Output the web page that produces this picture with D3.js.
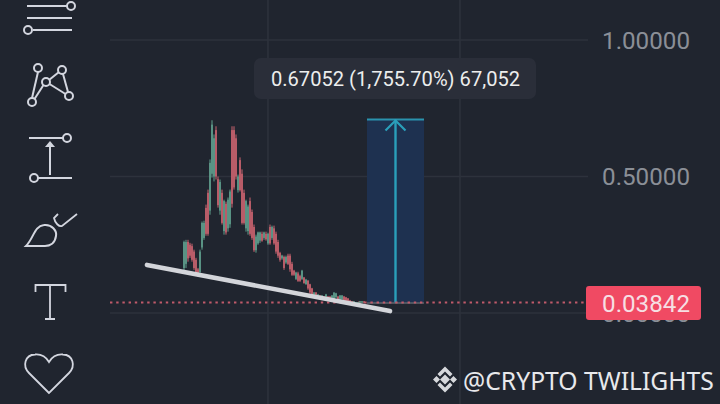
<!DOCTYPE html>
<html><head><meta charset="utf-8">
<script src="https://cdn.jsdelivr.net/npm/d3@7"></script>
<style>html,body{margin:0;padding:0;background:#20252f;overflow:hidden}svg{display:block}</style>
</head><body><svg id="c" width="720" height="404"></svg>
<script>
const highs=[.265,.268,.268,.257,.254,.232,.202,.165,.232,.335,.338,.397,.452,.5625,.706,.654,.684,.5,.489,.452,.415,.408,.423,.452,.684,.684,.654,.507,.57,.526,.452,.415,.397,.423,.379,.324,.287,.298,.298,.298,.298,.298,.294,.324,.32,.32,.298,.268,.224,.213,.21,.21,.217,.217,.1875,.158,.151,.151,.14,.158,.132,.125,.121,.107,.092,.077,.077,.07,.066,.066,.0625,.07,.0625,.0625,.066,.077,.074,.0625,.066,.066,.0625,.059,.055,.048,.044,.044,.04,.04,.044,.044,.044];
const lows=[.151,.165,.188,.202,.188,.158,.14,.132,.143,.232,.268,.283,.283,.36,.496,.482,.489,.386,.36,.324,.287,.287,.298,.312,.386,.452,.489,.441,.445,.324,.324,.298,.287,.283,.268,.224,.221,.25,.257,.261,.268,.265,.25,.25,.268,.25,.217,.202,.188,.195,.158,.18,.176,.151,.136,.136,.121,.114,.114,.121,.107,.103,.085,.07,.062,.059,.062,.055,.051,.048,.048,.051,.044,.048,.048,.048,.055,.048,.044,.048,.044,.04,.033,.033,.029,.033,.033,.037,.037,.037,.037];
const opens=[.165,.18,.26,.25,.245,.225,.195,.16,.15,.24,.275,.385,.44,.375,.51,.5,.67,.49,.375,.44,.3,.4,.31,.325,.67,.67,.64,.45,.56,.51,.44,.31,.3,.41,.37,.315,.23,.255,.265,.29,.275,.29,.255,.315,.275,.31,.29,.26,.22,.2,.205,.185,.21,.21,.18,.155,.125,.145,.135,.125,.13,.106,.118,.105,.09,.062,.075,.058,.064,.052,.06,.054,.06,.06,.05,.05,.058,.06,.048,.05,.06,.057,.053,.046,.042,.035,.035,.038,.038,.038,.042];
const closes=[.26,.26,.2,.21,.195,.165,.145,.135,.225,.33,.33,.29,.29,.55,.69,.64,.5,.395,.48,.33,.41,.295,.415,.445,.4,.46,.5,.5,.45,.33,.33,.41,.39,.29,.275,.23,.28,.295,.295,.265,.295,.27,.29,.255,.315,.255,.225,.21,.195,.21,.165,.205,.18,.16,.14,.14,.148,.118,.118,.155,.11,.122,.09,.075,.066,.075,.064,.068,.053,.064,.05,.068,.046,.05,.064,.074,.072,.05,.064,.064,.047,.042,.035,.035,.03,.042,.039,.04,.043,.043,.038];
const gridPrices=[1,0.5,0];
const tickLabels=["1.00000","0.50000","0.00000"];
const lastPrice=0.03842, measureTop=0.70894;
const measureLabel="0.67052 (1,755.70%) 67,052";
const trendIndex=[-18.5,103], trendPrice=[0.176,0.007];
const measureIndex=[91.5,120];
const verticalGridIndex=[42,138];
const watermark="@CRYPTO TWILIGHTS";

const svg=d3.select("#c");
const x=d3.scaleLinear().domain([0,90]).range([184,364]);
const y=d3.scaleLinear().domain([0,1]).range([313,40]);
const grid="#2d323c";
const cw=1.9;

// grid
svg.append("g").selectAll("line").data(gridPrices).join("line")
 .attr("x1",110).attr("x2",588).attr("y1",d=>y(d)).attr("y2",d=>y(d))
 .attr("stroke",grid).attr("stroke-width",1.6);
svg.append("g").selectAll("line").data(verticalGridIndex).join("line")
 .attr("x1",d=>x(d)).attr("x2",d=>x(d)).attr("y1",0).attr("y2",404)
 .attr("stroke",grid).attr("stroke-width",1.6);

// measure tool
const mx0=x(measureIndex[0]),mx1=x(measureIndex[1]),my0=y(lastPrice),my1=y(measureTop);
svg.append("rect").attr("x",mx0).attr("width",mx1-mx0).attr("y",my1).attr("height",my0-my1).attr("fill","#1e3150");
svg.append("line").attr("x1",mx0).attr("x2",mx1).attr("y1",my1).attr("y2",my1).attr("stroke","#2a93ae").attr("stroke-width",2);
svg.append("line").attr("x1",mx0).attr("x2",mx1).attr("y1",my0+.5).attr("y2",my0+.5).attr("stroke","#5d6670").attr("stroke-width",1.6);
const mid=(mx0+mx1)/2;
svg.append("path").attr("d",d3.line()([[mid,my0],[mid,my1]])).attr("stroke","#2a9fba").attr("stroke-width",2.4).attr("fill","none");
svg.append("path").attr("d",d3.line()([[mid-10,my1+11],[mid,my1+1],[mid+10,my1+11]])).attr("stroke","#2a9fba").attr("stroke-width",2.2).attr("fill","none");

// price dotted
svg.append("line").attr("x1",110).attr("x2",586).attr("y1",y(lastPrice)).attr("y2",y(lastPrice))
 .attr("stroke","#c05a6a").attr("stroke-width",2).attr("stroke-dasharray","2.4 3.8");

// candles
const f=svg.append("defs").append("filter").attr("id","soft");
f.append("feGaussianBlur").attr("stdDeviation",0.5);
const idx=d3.range(highs.length);
const cg=svg.append("g").attr("filter","url(#soft)");
const col=i=>closes[i]>=opens[i]?"#5f9f8d":"#c9636f";
cg.selectAll(".w").data(idx).join("line").attr("x1",i=>x(i)).attr("x2",i=>x(i))
 .attr("y1",i=>y(highs[i])).attr("y2",i=>y(lows[i])).attr("stroke",col).attr("stroke-width",1);
cg.selectAll(".b").data(idx).join("rect").attr("x",i=>x(i)-cw/2).attr("width",cw)
 .attr("y",i=>y(Math.max(opens[i],closes[i]))).attr("height",i=>Math.max(1,Math.abs(y(opens[i])-y(closes[i]))))
 .attr("fill",col).attr("fill-opacity",.85);

// trend
svg.append("line").attr("x1",x(trendIndex[0])).attr("x2",x(trendIndex[1])).attr("y1",y(trendPrice[0])).attr("y2",y(trendPrice[1]))
 .attr("stroke","#d3d5da").attr("stroke-width",4.6).attr("stroke-linecap","round");

// axis labels
svg.append("g").selectAll("text").data(gridPrices).join("text")
 .attr("x",690).attr("y",d=>y(d)+8.5).attr("text-anchor","end")
 .attr("font-family","Roboto").attr("font-size",24.2).attr("fill","#8b8f97")
 .text((d,i)=>tickLabels[i]);

// price label
svg.append("rect").attr("x",586).attr("y",286).attr("width",115).attr("height",34).attr("rx",3).attr("fill","#f04a63");
svg.append("text").attr("x",690).attr("y",y(lastPrice)+9.5).attr("text-anchor","end")
 .attr("font-family","Roboto").attr("font-size",24.2).attr("fill","#f6dfe3").text(lastPrice.toFixed(5));

// tooltip
svg.append("rect").attr("x",254).attr("y",58).attr("width",282).attr("height",41).attr("rx",7).attr("fill","#2a2e39");
svg.append("text").attr("x",395.5).attr("y",86).attr("text-anchor","middle")
 .attr("font-family","Roboto").attr("font-size",20.1).attr("fill","#eceded").text(measureLabel);

// toolbar icons
const ic=svg.append("g").attr("fill","none").attr("stroke","#d3d6df").attr("stroke-width",2);
const seg=(a,b,c,d)=>ic.append("line").attr("x1",a).attr("y1",b).attr("x2",c).attr("y2",d);
const ci=(a,b,r=4)=>ic.append("circle").attr("cx",a).attr("cy",b).attr("r",r);
seg(27,6,67,6);ci(71,6);seg(27,18,72,18);seg(33,30,72,30);ci(28,30);
seg(38,72,32,98);seg(34.5,99,43.5,85);seg(49,80,59,72);seg(63,74,68,92);seg(49.5,84,65.5,94);
ci(38,68);ci(62,70);ci(46,82);ci(32,102);ci(69,96);
seg(29,138,63,138);ci(67,138);seg(50,175,50,146);seg(38,178,72,178);ci(34,178);
ic.append("path").attr("d","M45,147L55,147L50,141Z").attr("fill","#d3d6df").attr("stroke","none");
ic.append("path").attr("d","M26,246 C34,238 34,226 44,225 C52,224 57,231 56,236 C55,243 50,246 45,246 Z");
ic.append("path").attr("d","M58,214 L54,218 C55,223 59,227 62,226 L77,214").attr("stroke-width",1.8);
ic.append("path").attr("d","M35.5,292 L35.5,285 L65.5,285 L65.5,292 M50,285 L50,319 M45,319 L55,319").attr("stroke-width",1.8);
ic.append("path").attr("d","M49,393 L29,373 C22,366 25,355 35,354.5 C41,354 46,357 49,362 C52,357 57,354 63,354.5 C73,355 76,366 69,373 Z").attr("stroke-width",1.8);

// watermark
const lg=svg.append("g").attr("fill","#d6d8dc");
lg.append("path").attr("d","M445,374.5 l5,5 l-5,5 l-5,-5Z");
lg.append("path").attr("d","M433,379.5 l3.5,-3.5 l3.5,3.5 l-3.5,3.5Z M450,379.5 l3.5,-3.5 l3.5,3.5 l-3.5,3.5Z");
lg.append("path").attr("d","M445,366.5 l7.5,7.5 l-2.5,2.5 l-5,-5 l-5,5 l-2.5,-2.5Z M445,392.5 l7.5,-7.5 l-2.5,-2.5 l-5,5 l-5,-5 l-2.5,2.5Z");
svg.append("text").attr("x",463).attr("y",389.5).attr("font-family","'Noto Sans'").attr("font-size",24.7)
 .attr("fill","#e8e9ec").text(watermark);
</script></body></html>
